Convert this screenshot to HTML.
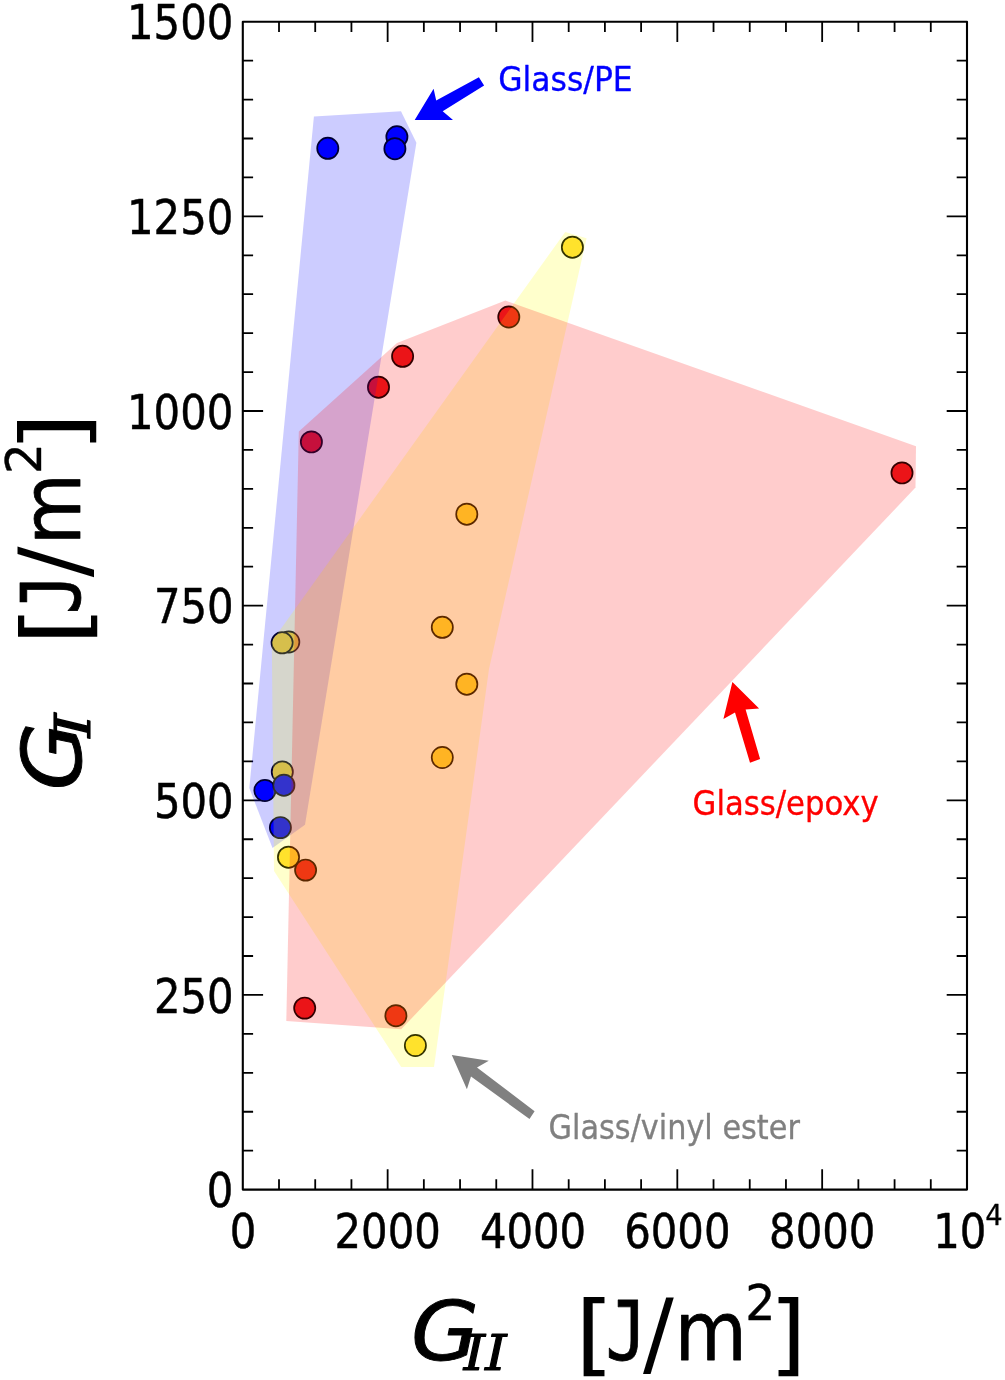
<!DOCTYPE html>
<html lang="en"><head><meta charset="utf-8"><title>G_I vs G_II</title>
<style>html,body{margin:0;padding:0;background:#fff}body{width:1005px;height:1380px;overflow:hidden}svg{display:block}</style>
</head><body>
<svg width="1005" height="1380" viewBox="0 0 1005 1380">
<rect width="1005" height="1380" fill="#fff"/>
<g id="ticks">
<rect x="242.8" y="21.7" width="724.20" height="1167.90" fill="none" stroke="#000" stroke-width="2.1" stroke-linejoin="round"/>
<path d="M279.01 1189.6v-10.3M279.01 21.7v10.3M315.22 1189.6v-10.3M315.22 21.7v10.3M351.43 1189.6v-10.3M351.43 21.7v10.3M387.64 1189.6v-20.3M387.64 21.7v20.3M423.85 1189.6v-10.3M423.85 21.7v10.3M460.06 1189.6v-10.3M460.06 21.7v10.3M496.27 1189.6v-10.3M496.27 21.7v10.3M532.48 1189.6v-20.3M532.48 21.7v20.3M568.69 1189.6v-10.3M568.69 21.7v10.3M604.90 1189.6v-10.3M604.90 21.7v10.3M641.11 1189.6v-10.3M641.11 21.7v10.3M677.32 1189.6v-20.3M677.32 21.7v20.3M713.53 1189.6v-10.3M713.53 21.7v10.3M749.74 1189.6v-10.3M749.74 21.7v10.3M785.95 1189.6v-10.3M785.95 21.7v10.3M822.16 1189.6v-20.3M822.16 21.7v20.3M858.37 1189.6v-10.3M858.37 21.7v10.3M894.58 1189.6v-10.3M894.58 21.7v10.3M930.79 1189.6v-10.3M930.79 21.7v10.3M242.8 1150.67h10.3M967.0 1150.67h-10.3M242.8 1111.74h10.3M967.0 1111.74h-10.3M242.8 1072.81h10.3M967.0 1072.81h-10.3M242.8 1033.88h10.3M967.0 1033.88h-10.3M242.8 994.95h20.3M967.0 994.95h-20.3M242.8 956.02h10.3M967.0 956.02h-10.3M242.8 917.09h10.3M967.0 917.09h-10.3M242.8 878.16h10.3M967.0 878.16h-10.3M242.8 839.23h10.3M967.0 839.23h-10.3M242.8 800.30h20.3M967.0 800.30h-20.3M242.8 761.37h10.3M967.0 761.37h-10.3M242.8 722.44h10.3M967.0 722.44h-10.3M242.8 683.51h10.3M967.0 683.51h-10.3M242.8 644.58h10.3M967.0 644.58h-10.3M242.8 605.65h20.3M967.0 605.65h-20.3M242.8 566.72h10.3M967.0 566.72h-10.3M242.8 527.79h10.3M967.0 527.79h-10.3M242.8 488.86h10.3M967.0 488.86h-10.3M242.8 449.93h10.3M967.0 449.93h-10.3M242.8 411.00h20.3M967.0 411.00h-20.3M242.8 372.07h10.3M967.0 372.07h-10.3M242.8 333.14h10.3M967.0 333.14h-10.3M242.8 294.21h10.3M967.0 294.21h-10.3M242.8 255.28h10.3M967.0 255.28h-10.3M242.8 216.35h20.3M967.0 216.35h-20.3M242.8 177.42h10.3M967.0 177.42h-10.3M242.8 138.49h10.3M967.0 138.49h-10.3M242.8 99.56h10.3M967.0 99.56h-10.3M242.8 60.63h10.3M967.0 60.63h-10.3" stroke="#000" stroke-width="1.8" fill="none"/>
</g>
<g id="points">
<circle cx="572.4" cy="247.2" r="10.6" fill="#ffdb37" stroke="#000" stroke-width="1.7"/>
<circle cx="466.8" cy="514.2" r="10.6" fill="#ffdb37" stroke="#000" stroke-width="1.7"/>
<circle cx="442.3" cy="627.3" r="10.6" fill="#ffdb37" stroke="#000" stroke-width="1.7"/>
<circle cx="466.8" cy="684.2" r="10.6" fill="#ffdb37" stroke="#000" stroke-width="1.7"/>
<circle cx="442.3" cy="757.5" r="10.6" fill="#ffdb37" stroke="#000" stroke-width="1.7"/>
<circle cx="288.8" cy="642.0" r="10.6" fill="#ffdb37" stroke="#000" stroke-width="1.7"/>
<circle cx="282.1" cy="642.8" r="10.6" fill="#ffdb37" stroke="#000" stroke-width="1.7"/>
<circle cx="282.3" cy="771.9" r="10.6" fill="#ffdb37" stroke="#000" stroke-width="1.7"/>
<circle cx="288.5" cy="857.2" r="10.6" fill="#ffdb37" stroke="#000" stroke-width="1.7"/>
<circle cx="415.4" cy="1045.5" r="10.6" fill="#ffdb37" stroke="#000" stroke-width="1.7"/>
<circle cx="327.8" cy="148.3" r="10.6" fill="#0000ff" stroke="#000" stroke-width="1.7"/>
<circle cx="396.9" cy="136.8" r="10.6" fill="#0000ff" stroke="#000" stroke-width="1.7"/>
<circle cx="394.9" cy="148.7" r="10.6" fill="#0000ff" stroke="#000" stroke-width="1.7"/>
<circle cx="264.9" cy="790.5" r="10.6" fill="#0000ff" stroke="#000" stroke-width="1.7"/>
<circle cx="283.9" cy="785.2" r="10.6" fill="#0000ff" stroke="#000" stroke-width="1.7"/>
<circle cx="280.4" cy="827.6" r="10.6" fill="#0000ff" stroke="#000" stroke-width="1.7"/>
<circle cx="508.8" cy="317.0" r="10.6" fill="#e6191e" stroke="#000" stroke-width="1.7"/>
<circle cx="402.6" cy="356.3" r="10.6" fill="#e6191e" stroke="#000" stroke-width="1.7"/>
<circle cx="378.5" cy="387.2" r="10.6" fill="#e6191e" stroke="#000" stroke-width="1.7"/>
<circle cx="311.4" cy="441.9" r="10.6" fill="#e6191e" stroke="#000" stroke-width="1.7"/>
<circle cx="902.0" cy="472.9" r="10.6" fill="#e6191e" stroke="#000" stroke-width="1.7"/>
<circle cx="305.6" cy="870.1" r="10.6" fill="#e6191e" stroke="#000" stroke-width="1.7"/>
<circle cx="304.7" cy="1008.1" r="10.6" fill="#e6191e" stroke="#000" stroke-width="1.7"/>
<circle cx="395.9" cy="1015.7" r="10.6" fill="#e6191e" stroke="#000" stroke-width="1.7"/>
</g>
<g id="hulls">
<polygon points="313.9,116.5 401.0,111.3 416.4,142.7 305.0,824.7 272.5,848.1 249.3,788.1" fill="rgba(0,0,255,0.2)"/>
<polygon points="565.2,232.0 586.6,238.3 489.0,669.0 434.0,1067.0 401.2,1067.0 274.0,871.0 271.8,641.5" fill="rgba(255,255,0,0.2)"/>
<polygon points="298.8,431.4 397.0,343.1 505.4,300.5 916.0,446.2 915.5,487.6 401.2,1029.3 286.3,1021.0" fill="rgba(255,0,0,0.2)"/>
</g>
<g id="arrows">
<polygon points="414.7,119.9 433.6,88.8 436.2,100.5 478.9,77.2 484.1,85.4 442.7,111.3 453.0,119.9" fill="#0000ff"/>
<polygon points="732.4,682.0 759.1,708.6 745.6,709.4 760.1,759.1 750.0,762.7 735.0,712.6 723.4,719.0" fill="#ff0000"/>
<polygon points="451.8,1054.9 488.8,1060.8 477.0,1067.5 534.6,1111.3 529.5,1119.0 471.0,1076.5 466.9,1089.3" fill="#808080"/>
</g>
<g id="labels">
<text transform="translate(498.24 91.40) scale(1.0589 1.0040)" style='font-family:"DejaVu Sans Condensed", "DejaVu Sans", "Liberation Sans", sans-serif;font-style:normal;font-size:33px' fill="#0000ff" stroke="#0000ff" stroke-width="0.3" stroke-linejoin="round">Glass/PE</text>
<text transform="translate(692.57 814.70) scale(1.0348 1.0240)" style='font-family:"DejaVu Sans Condensed", "DejaVu Sans", "Liberation Sans", sans-serif;font-style:normal;font-size:33px' fill="#ff0000" stroke="#ff0000" stroke-width="0.3" stroke-linejoin="round">Glass/epoxy</text>
<text transform="translate(548.58 1138.60) scale(1.0212 1.0000)" style='font-family:"DejaVu Sans Condensed", "DejaVu Sans", "Liberation Sans", sans-serif;font-style:normal;font-size:33px' fill="#808080" stroke="#808080" stroke-width="0.3" stroke-linejoin="round">Glass/vinyl ester</text>
<text transform="translate(411.02 1360.02) scale(1.1615 0.9781)" style='font-family:"DejaVu Sans Condensed", "DejaVu Sans", "Liberation Sans", sans-serif;font-style:italic;font-size:84px' fill="#000" stroke="#000" stroke-width="0.9" stroke-linejoin="round">G</text>
<text transform="translate(463.77 1370.43) scale(0.9660 0.8651)" style='font-family:"DejaVu Serif", "Liberation Serif", serif;font-style:italic;font-size:56px' fill="#000" stroke="#000" stroke-width="1.3" stroke-linejoin="round">II</text>
<text transform="translate(575.01 1364.71) scale(1.3312 1.0627)" style='font-family:"DejaVu Sans Condensed", "DejaVu Sans", "Liberation Sans", sans-serif;font-style:normal;font-size:84px' fill="#000">[</text>
<text transform="translate(605.41 1359.73) scale(0.8222 0.9726)" style='font-family:"DejaVu Sans Mono", monospace;font-style:normal;font-size:84px' fill="#000" stroke="#000" stroke-width="0.8" stroke-linejoin="round">J</text>
<text transform="translate(642.90 1364.89) scale(1.2080 1.1014)" style='font-family:"DejaVu Sans Condensed", "DejaVu Sans", "Liberation Sans", sans-serif;font-style:normal;font-size:84px' fill="#000">/</text>
<text transform="translate(674.64 1360.20) scale(0.9774 0.9681)" style='font-family:"DejaVu Sans Condensed", "DejaVu Sans", "Liberation Sans", sans-serif;font-style:normal;font-size:84px' fill="#000" stroke="#000" stroke-width="0.8" stroke-linejoin="round">m</text>
<text transform="translate(745.30 1319.60) scale(1.0318 0.9667)" style='font-family:"DejaVu Sans Condensed", "DejaVu Sans", "Liberation Sans", sans-serif;font-style:normal;font-size:51px' fill="#000" stroke="#000" stroke-width="0.4" stroke-linejoin="round">2</text>
<text transform="translate(769.36 1364.71) scale(1.2625 1.0627)" style='font-family:"DejaVu Sans Condensed", "DejaVu Sans", "Liberation Sans", sans-serif;font-style:normal;font-size:84px' fill="#000">]</text>
<text transform="translate(81.12 790.59) rotate(-90) scale(1.1635 0.9828)" style='font-family:"DejaVu Sans Condensed", "DejaVu Sans", "Liberation Sans", sans-serif;font-style:italic;font-size:84px' fill="#000" stroke="#000" stroke-width="0.9" stroke-linejoin="round">G</text>
<text transform="translate(90.13 737.42) rotate(-90) scale(1.0840 0.8721)" style='font-family:"DejaVu Serif", "Liberation Serif", serif;font-style:italic;font-size:56px' fill="#000" stroke="#000" stroke-width="1.3" stroke-linejoin="round">I</text>
<text transform="translate(85.70 645.44) rotate(-90) scale(1.3562 1.0640)" style='font-family:"DejaVu Sans Condensed", "DejaVu Sans", "Liberation Sans", sans-serif;font-style:normal;font-size:84px' fill="#000">[</text>
<text transform="translate(80.03 614.31) rotate(-90) scale(0.8028 0.9726)" style='font-family:"DejaVu Sans Mono", monospace;font-style:normal;font-size:84px' fill="#000" stroke="#000" stroke-width="0.8" stroke-linejoin="round">J</text>
<text transform="translate(84.79 577.30) rotate(-90) scale(1.2120 1.1014)" style='font-family:"DejaVu Sans Condensed", "DejaVu Sans", "Liberation Sans", sans-serif;font-style:normal;font-size:84px' fill="#000">/</text>
<text transform="translate(80.40 544.95) rotate(-90) scale(0.9742 0.9830)" style='font-family:"DejaVu Sans Condensed", "DejaVu Sans", "Liberation Sans", sans-serif;font-style:normal;font-size:84px' fill="#000" stroke="#000" stroke-width="0.8" stroke-linejoin="round">m</text>
<text transform="translate(40.70 473.96) rotate(-90) scale(1.0545 0.9821)" style='font-family:"DejaVu Sans Condensed", "DejaVu Sans", "Liberation Sans", sans-serif;font-style:normal;font-size:51px' fill="#000" stroke="#000" stroke-width="0.4" stroke-linejoin="round">2</text>
<text transform="translate(85.44 452.48) rotate(-90) scale(1.3687 1.0600)" style='font-family:"DejaVu Sans Condensed", "DejaVu Sans", "Liberation Sans", sans-serif;font-style:normal;font-size:84px' fill="#000">]</text>
<text transform="translate(933.26 1248.26) scale(0.9286 0.9447)" style='font-family:"DejaVu Sans Condensed", "DejaVu Sans", "Liberation Sans", sans-serif;font-style:normal;font-size:50px' fill="#000" stroke="#000" stroke-width="0.5" stroke-linejoin="round">10</text>
<text transform="translate(985.29 1225.40) scale(1.0133 0.9591)" style='font-family:"DejaVu Sans Condensed", "DejaVu Sans", "Liberation Sans", sans-serif;font-style:normal;font-size:30px' fill="#000" stroke="#000" stroke-width="0.3" stroke-linejoin="round">4</text>
<text transform="translate(206.87 1207.28) scale(0.9280 0.9434)" style='font-family:"DejaVu Sans Condensed", "DejaVu Sans", "Liberation Sans", sans-serif;font-size:50px' fill="#000" stroke="#000" stroke-width="0.5">0</text>
<text transform="translate(153.97 1012.63) scale(0.9280 0.9434)" style='font-family:"DejaVu Sans Condensed", "DejaVu Sans", "Liberation Sans", sans-serif;font-size:50px' fill="#000" stroke="#000" stroke-width="0.5">250</text>
<text transform="translate(153.97 817.98) scale(0.9280 0.9434)" style='font-family:"DejaVu Sans Condensed", "DejaVu Sans", "Liberation Sans", sans-serif;font-size:50px' fill="#000" stroke="#000" stroke-width="0.5">500</text>
<text transform="translate(153.97 623.33) scale(0.9280 0.9434)" style='font-family:"DejaVu Sans Condensed", "DejaVu Sans", "Liberation Sans", sans-serif;font-size:50px' fill="#000" stroke="#000" stroke-width="0.5">750</text>
<text transform="translate(127.06 428.68) scale(0.9280 0.9434)" style='font-family:"DejaVu Sans Condensed", "DejaVu Sans", "Liberation Sans", sans-serif;font-size:50px' fill="#000" stroke="#000" stroke-width="0.5">1000</text>
<text transform="translate(127.06 234.03) scale(0.9280 0.9434)" style='font-family:"DejaVu Sans Condensed", "DejaVu Sans", "Liberation Sans", sans-serif;font-size:50px' fill="#000" stroke="#000" stroke-width="0.5">1250</text>
<text transform="translate(127.06 39.38) scale(0.9280 0.9434)" style='font-family:"DejaVu Sans Condensed", "DejaVu Sans", "Liberation Sans", sans-serif;font-size:50px' fill="#000" stroke="#000" stroke-width="0.5">1500</text>
<text transform="translate(229.64 1248.36) scale(0.9280 0.9434)" style='font-family:"DejaVu Sans Condensed", "DejaVu Sans", "Liberation Sans", sans-serif;font-size:50px' fill="#000" stroke="#000" stroke-width="0.5">0</text>
<text transform="translate(334.58 1248.36) scale(0.9280 0.9434)" style='font-family:"DejaVu Sans Condensed", "DejaVu Sans", "Liberation Sans", sans-serif;font-size:50px' fill="#000" stroke="#000" stroke-width="0.5">2000</text>
<text transform="translate(479.88 1248.36) scale(0.9280 0.9434)" style='font-family:"DejaVu Sans Condensed", "DejaVu Sans", "Liberation Sans", sans-serif;font-size:50px' fill="#000" stroke="#000" stroke-width="0.5">4000</text>
<text transform="translate(624.26 1248.36) scale(0.9280 0.9434)" style='font-family:"DejaVu Sans Condensed", "DejaVu Sans", "Liberation Sans", sans-serif;font-size:50px' fill="#000" stroke="#000" stroke-width="0.5">6000</text>
<text transform="translate(769.10 1248.36) scale(0.9280 0.9434)" style='font-family:"DejaVu Sans Condensed", "DejaVu Sans", "Liberation Sans", sans-serif;font-size:50px' fill="#000" stroke="#000" stroke-width="0.5">8000</text>
</g>
</svg>
</body></html>
